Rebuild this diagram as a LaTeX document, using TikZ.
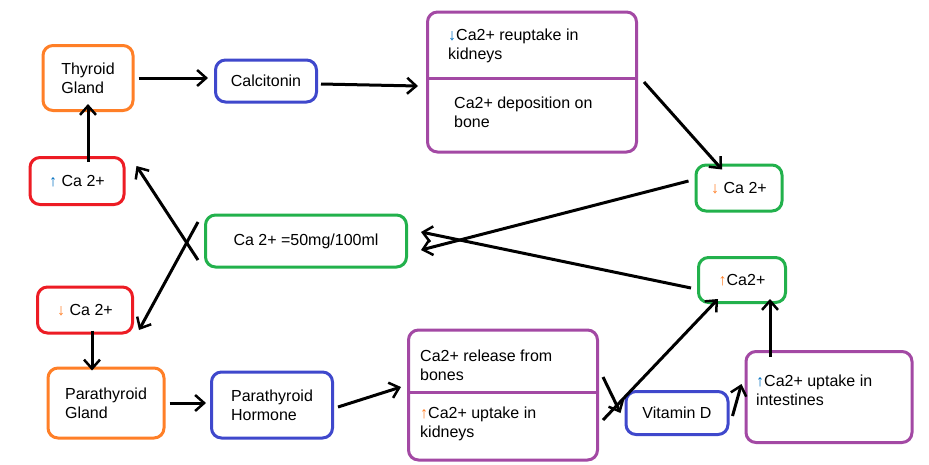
\documentclass[tikz,border=0pt]{standalone}
\usepackage{fontspec}
\setmainfont{Liberation Sans}
\usetikzlibrary{arrows.meta}
\definecolor{cor}{RGB}{255,127,39}
\definecolor{cbl}{RGB}{63,72,204}
\definecolor{cpu}{RGB}{163,73,164}
\definecolor{cgr}{RGB}{34,177,76}
\definecolor{cre}{RGB}{237,28,36}
\definecolor{cup}{RGB}{0,112,192}
\begin{document}
\begin{tikzpicture}[x=1pt,y=-1pt,
  box/.style={draw,line width=3pt,rounded corners=10pt,font=\fontsize{16}{19}\selectfont,align=left,inner sep=0pt},
  txt/.style={anchor=west,font=\fontsize{16}{19}\selectfont,align=left,inner sep=0pt},
  arr/.style={-{Straight Barb[length=9pt,width=16pt,line width=2.5pt]},line width=3pt}]
\useasboundingbox[fill=white] (0,0) rectangle (929,464);
\node[box,cor,minimum width=90,minimum height=65,text=black] (thy) at (88,78) {Thyroid\\Gland};
\node[box,cbl,minimum width=101,minimum height=42,text=black] (cal) at (266,81) {Calcitonin};
\node[box,cpu,minimum width=209,minimum height=140] (k1) at (532,82) {};
\draw[cpu,line width=3pt] (k1.west|-0,78) -- (k1.east|-0,78);
\node[txt] (k1a) at (448,46) {{\color{cup}↓}Ca2+ reuptake in\\kidneys};
\node[txt] (k1b) at (454,112) {Ca2+ deposition on\\bone};
\node[box,cgr,minimum width=86,minimum height=46,text=black] (dr) at (739,188) {{\color{cor}↓} Ca 2+};
\node[box,cre,minimum width=94,minimum height=47,text=black] (ul) at (77,181) {{\color{cup}↑} Ca 2+};
\node[box,cgr,minimum width=201,minimum height=52,text=black] (c) at (306,241) {Ca 2+ =50mg/100ml};
\node[box,cgr,minimum width=87,minimum height=45,text=black] (ur) at (742,280) {{\color{cor}↑}Ca2+};
\node[box,cre,minimum width=95,minimum height=46,text=black] (dl) at (85,310) {{\color{cor}↓} Ca 2+};
\node[box,cor,minimum width=116,minimum height=70,text=black] (pg) at (106,403) {Parathyroid\\Gland};
\node[box,cbl,minimum width=121,minimum height=66,text=black] (ph) at (272,405) {Parathyroid\\Hormone};
\node[box,cpu,minimum width=189,minimum height=130] (k2) at (503,395) {};
\draw[cpu,line width=3pt] (k2.west|-0,392) -- (k2.east|-0,392);
\node[txt] (k2a) at (420,365) {Ca2+ release from\\bones};
\node[txt] (k2b) at (420,424) {{\color{cor}↑}Ca2+ uptake in\\kidneys};
\node[box,cbl,minimum width=102,minimum height=43,text=black] (vd) at (677,413) {Vitamin D};
\node[box,cpu,minimum width=166,minimum height=91] (in) at (829,397) {};
\node[txt] (ina) at (756,390) {{\color{cup}↑}Ca2+ uptake in\\intestines};
\draw[arr] (thy.east) ++(4,0) -- ([xshift=-6]cal.west|-thy.east);
\draw[arr] ([xshift=3,yshift=-3]cal.east) -- ([xshift=-8,yshift=-4]k1.west);
\draw[arr] ([xshift=6,yshift=0]k1.east|-0,82) -- ([xshift=-17,yshift=-6]dr.north);
\draw[arr] ([xshift=-6,yshift=7]dr.west) -- ([xshift=13,yshift=-9]c.east);
\draw[arr] ([xshift=-6,yshift=-19]c.west) -- ([xshift=11,yshift=15]ul.east);
\draw[arr] ([xshift=11,yshift=-6]ul.north) -- ([xshift=0,yshift=8]thy.south);
\draw[arr] ([xshift=-6,yshift=19]c.west) -- ([xshift=5,yshift=-20]dl.east);
\draw[arr] ([xshift=7,yshift=4]dl.south) -- ([xshift=-14,yshift=-4]pg.north);
\draw[arr] ([xshift=4,yshift=0]pg.east) -- ([xshift=-4]ph.west|-pg.east);
\draw[arr] ([xshift=4,yshift=-2]ph.east) -- ([xshift=-6,yshift=8]k2.west);
\draw[arr] ([xshift=4,yshift=18]k2.east) -- ([xshift=-4,yshift=0]vd.west);
\draw[arr] ([xshift=3,yshift=-3]vd.east) -- ([xshift=-3,yshift=13]in.west);
\draw[arr] ([xshift=-59,yshift=-7]in.north) -- ([xshift=28,yshift=5]ur.south);
\draw[arr] ([xshift=4,yshift=-25]k2.east) -- ([xshift=-24,yshift=5]ur.south);
\draw[arr] ([xshift=-6,yshift=-8]ur.west) -- ([xshift=13,yshift=9]c.east);
\end{tikzpicture}
\end{document}
